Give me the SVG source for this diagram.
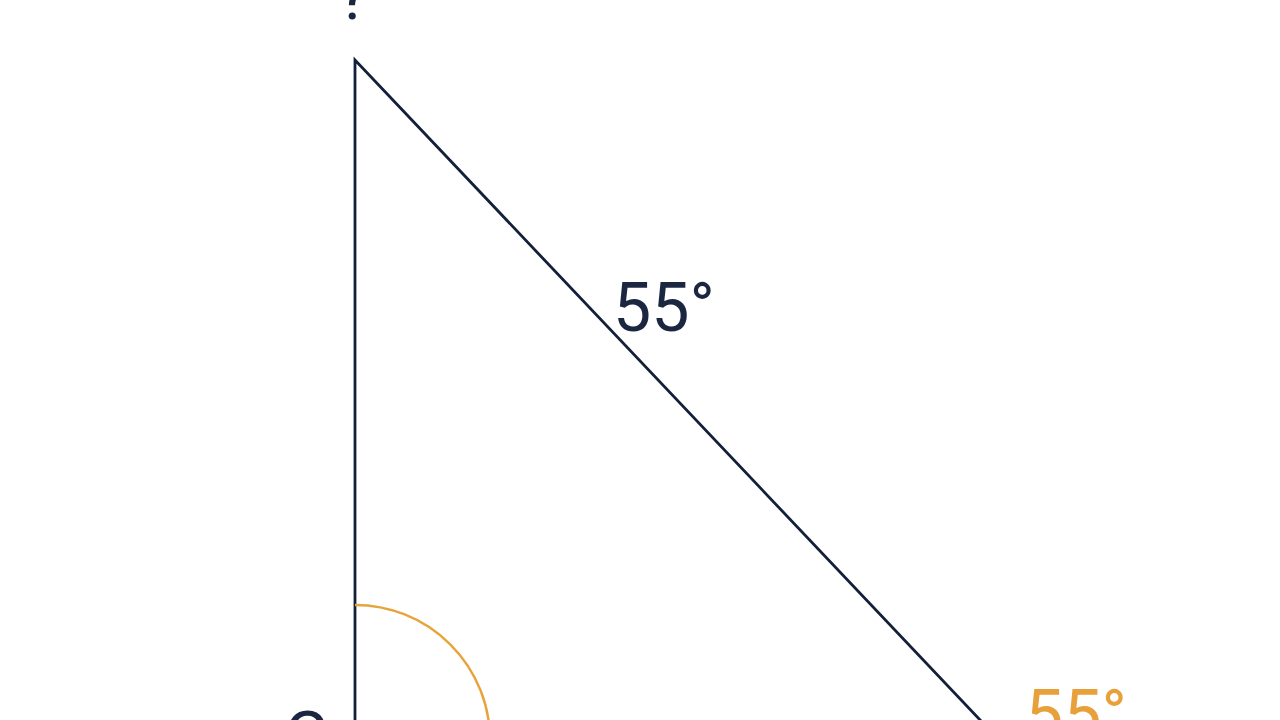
<svg xmlns="http://www.w3.org/2000/svg" width="1280" height="720" viewBox="0 0 1280 720">
<style>
.edge{fill:none;stroke:#13203a;stroke-width:2.8;stroke-linejoin:miter}
.lbl{font-family:Roboto,"Liberation Sans",sans-serif;font-size:68px;fill:#1b2640}
.ang{font-family:Roboto,"Liberation Sans",sans-serif;font-size:68px;fill:#e8a03a}
</style>
<rect width="1280" height="720" fill="#ffffff"/>
<g id="connectors">
<polyline class="edge" points="355,740 355,60 1000,741"/>
<path d="M355,605 A135,135 0 0 1 490,740" fill="none" stroke="#e8a43c" stroke-width="2.4"/>
</g>
<g id="vertex-top"><text class="lbl" x="353" y="19" text-anchor="middle">?</text></g>
<g id="vertex-bottom"><text class="lbl" x="284" y="760">C</text></g>
<g id="angle-label"><text class="lbl" x="613" y="331">55°</text></g>
<g id="angle-label-orange"><text class="ang" x="1025" y="738">55°</text></g>
</svg>
